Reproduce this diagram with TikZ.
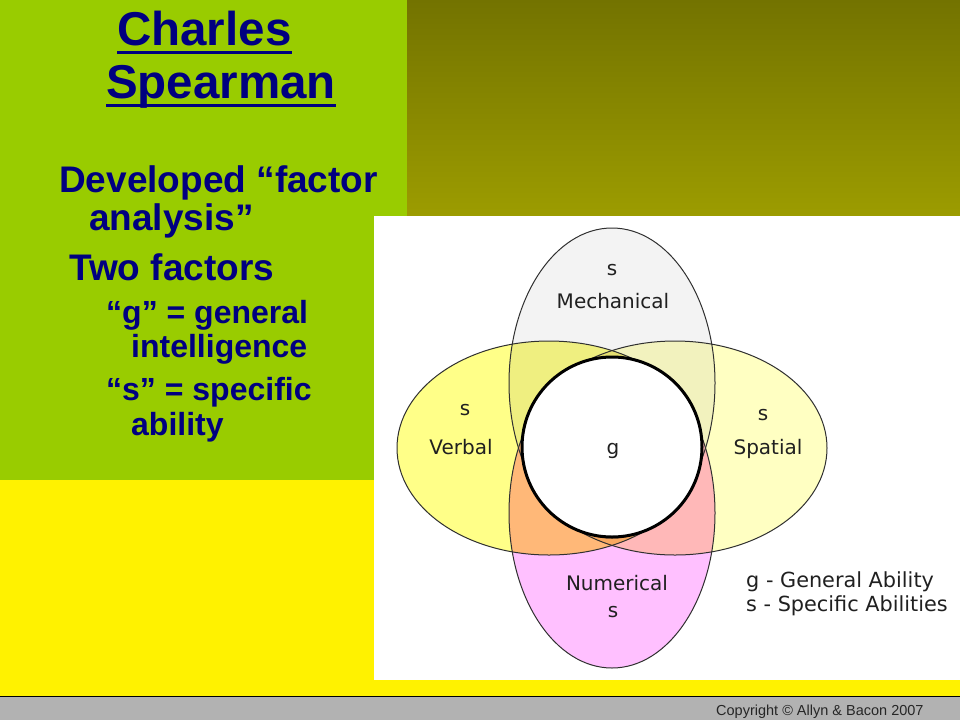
\documentclass[tikz,border=0pt]{standalone}
\usepackage{fontspec}
\setmainfont{Liberation Sans}
\newfontfamily\vennfont{DejaVu Sans}
\definecolor{navy}{HTML}{000080}
\definecolor{panelgreen}{HTML}{99CC00}
\definecolor{olivetop}{HTML}{737300}
\definecolor{olivebot}{HTML}{9C9C00}
\definecolor{footgray}{HTML}{B2B2B2}
\definecolor{mechc}{HTML}{F3F3F3}
\definecolor{verbc}{HTML}{FFFF88}
\definecolor{spatc}{HTML}{FFFFC2}
\definecolor{numc}{HTML}{FFC0FF}
\definecolor{mvc}{HTML}{EFEF80}
\definecolor{msc}{HTML}{F2F2BE}
\definecolor{vnc}{HTML}{FFB878}
\definecolor{snc}{HTML}{FFB8B8}
\definecolor{toplens}{HTML}{E6E070}
\definecolor{botlens}{HTML}{F8A860}
\definecolor{vtext}{HTML}{202020}
\definecolor{vline}{HTML}{303030}
\begin{document}
\begin{tikzpicture}[x=1pt,y=-1pt,
  titletext/.style={font=\bfseries\fontsize{47.5}{52}\selectfont, text=navy, inner sep=0pt, anchor=base west},
  lvlone/.style={font=\bfseries\fontsize{37}{40}\selectfont, text=navy, inner sep=0pt, anchor=base west},
  lvltwo/.style={font=\bfseries\fontsize{32}{35}\selectfont, text=navy, inner sep=0pt, anchor=base west},
  uline/.style={draw=navy, line width=3.5pt},
  vlabel/.style={font=\vennfont\fontsize{20}{22}\selectfont, text=vtext, inner sep=0pt, anchor=base},
  legendtext/.style={font=\vennfont\fontsize{20.8}{23}\selectfont, text=vtext, inner sep=0pt, anchor=base west},
  vennline/.style={draw=vline, line width=1pt},
]
\useasboundingbox (0,0) rectangle (960,720);
% backgrounds
\fill[yellow] (0,0) rectangle (960,697);
\fill[panelgreen] (0,0) rectangle (407,480);
\shade[top color=olivetop, bottom color=olivebot] (407,0) rectangle (960,216);
\fill[white] (374,216) rectangle (960,680);
\fill[footgray] (0,697) rectangle (960,720);
\draw[black, line width=1pt] (0,696.5) -- (960,696.5);

% Venn shapes
\def\Verb{(549,448) ellipse [x radius=152pt, y radius=107pt]}
\def\Spat{(675,448) ellipse [x radius=152pt, y radius=107pt]}
\def\Mech{(612,383) ellipse [x radius=103pt, y radius=155pt]}
\def\Numr{(612,513) ellipse [x radius=103pt, y radius=155pt]}
\fill[verbc] \Verb;
\fill[spatc] \Spat;
\fill[mechc] \Mech;
\fill[numc] \Numr;
\begin{scope}
  \clip \Verb;
  \fill[mvc] \Mech;
  \fill[vnc] \Numr;
\end{scope}
\begin{scope}
  \clip \Spat;
  \fill[msc] \Mech;
  \fill[snc] \Numr;
\end{scope}
\begin{scope}
  \clip \Verb;
  \clip \Spat;
  \fill[toplens] (400,200) rectangle (820,448);
  \fill[botlens] (400,448) rectangle (820,700);
\end{scope}
\draw[vennline] \Verb;
\draw[vennline] \Spat;
\draw[vennline] \Mech;
\draw[vennline] \Numr;
\node[circle, minimum size=180pt, inner sep=0pt, fill=white, draw=black, line width=3pt] (gcircle) at (612,447) {};

% Venn labels
\node[vlabel] (mechs) at (612,275) {s};
\node[vlabel] (mechl) at (613,308) {Mechanical};
\node[vlabel] (verbs) at (465,415) {s};
\node[vlabel] (verbl) at (461,454) {Verbal};
\node[vlabel] (gl) at (613,454) {g};
\node[vlabel] (spats) at (763,420) {s};
\node[vlabel] (spatl) at (768,454) {Spatial};
\node[vlabel] (numl) at (617,590) {Numerical};
\node[vlabel] (nums) at (613,617) {s};
\node[legendtext] (leg1) at (746,587) {g - General Ability};
\node[legendtext] (leg2) at (746,611) {s - Specific Abilities};

% Left panel text
\node[titletext] (charles) at (117,45) {Charles};
\node[titletext] (spearman) at (106,98) {Spearman};
\draw[uline] ([yshift=-7.5pt]charles.base west) -- ([yshift=-7.5pt]charles.base east);
\draw[uline] ([yshift=-7.5pt]spearman.base west) -- ([yshift=-7.5pt]spearman.base east);
\node[lvlone] (dev) at (59,192) {Developed “factor};
\node[lvlone] (anal) at (89,230) {analysis”};
\node[lvlone] (two) at (69,280) {Two factors};
\node[lvltwo] (gone) at (106,323) {“g” = general};
\node[lvltwo] (gtwo) at (131,357) {intelligence};
\node[lvltwo] (sone) at (106,400) {“s” = specific};
\node[lvltwo] (stwo) at (131,435) {ability};

% footer
\node[font=\fontsize{14.5}{16}\selectfont, text=black!85, inner sep=0pt, anchor=base west] (copy) at (716,715) {Copyright © Allyn \& Bacon 2007};
\end{tikzpicture}
\end{document}
